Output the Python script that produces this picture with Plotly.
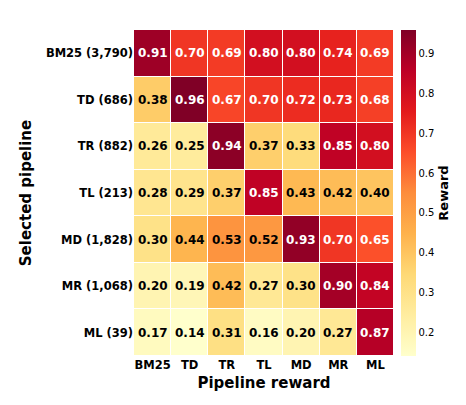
import plotly.graph_objects as go

cols = ["BM25", "TD", "TR", "TL", "MD", "MR", "ML"]
rows = ["BM25 (3,790)", "TD (686)", "TR (882)", "TL (213)", "MD (1,828)", "MR (1,068)", "ML (39)"]
vals = [
    [0.91, 0.70, 0.69, 0.80, 0.80, 0.74, 0.69],
    [0.38, 0.96, 0.67, 0.70, 0.72, 0.73, 0.68],
    [0.26, 0.25, 0.94, 0.37, 0.33, 0.85, 0.80],
    [0.28, 0.29, 0.37, 0.85, 0.43, 0.42, 0.40],
    [0.30, 0.44, 0.53, 0.52, 0.93, 0.70, 0.65],
    [0.20, 0.19, 0.42, 0.27, 0.30, 0.90, 0.84],
    [0.17, 0.14, 0.31, 0.16, 0.20, 0.27, 0.87],
]

fig = go.Figure(go.Heatmap(
    z=vals, x=cols, y=rows, colorscale="YlOrRd", zmin=0.14, zmax=0.96,
    xgap=1, ygap=1,
    colorbar=dict(thickness=15, len=1, lenmode="fraction", y=0.5, x=1.025, xpad=0, ypad=0,
                  outlinewidth=0, tickvals=[0.2, 0.3, 0.4, 0.5, 0.6, 0.7, 0.8, 0.9],
                  tickfont=dict(size=10, family="DejaVu Sans"),
                  title=dict(text="<b>Reward</b>", side="right",
                             font=dict(size=13, family="DejaVu Sans"))),
))

# cell labels
for i, r in enumerate(rows):
    for j, c in enumerate(cols):
        v = vals[i][j]
        fig.add_annotation(x=c, y=r, text="<b>%.2f</b>" % v, showarrow=False,
                           font=dict(size=12, family="DejaVu Sans",
                                     color="white" if v > 0.6 else "black"))

fig.update_xaxes(title=dict(text="<b>Pipeline reward</b>", font=dict(size=15), standoff=6),
                 tickfont=dict(size=11.5), showgrid=False, ticks="", automargin=False,
                 tickprefix="<b>", ticksuffix="</b>")
fig.update_yaxes(title=dict(text="<b>Selected pipeline</b>", font=dict(size=15), standoff=10),
                 tickfont=dict(size=11.5), autorange="reversed", showgrid=False, ticks="",
                 tickprefix="<b>", ticksuffix="</b>", automargin=False)
fig.update_layout(width=466, height=405, margin=dict(l=126, r=80, t=22, b=57),
                  font=dict(family="DejaVu Sans", color="black"),
                  plot_bgcolor="white", paper_bgcolor="white")
fig.write_html("out.html")
